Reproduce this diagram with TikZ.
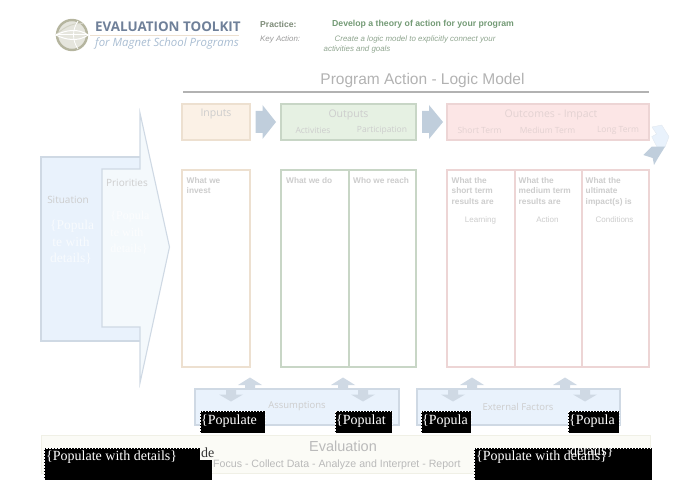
\documentclass[tikz,border=0pt]{standalone}
\usepackage{fontspec}
\setmainfont{Liberation Sans}
\newfontfamily\lsf{Open Sans}
\newfontfamily\srf{Liberation Serif}
\definecolor{txtg}{HTML}{CDCDCD}
\definecolor{blueF}{HTML}{E9F2FC}
\definecolor{blueD}{HTML}{CFD9E4}
\definecolor{arrowB}{HTML}{C0CEDC}
\definecolor{iceF}{HTML}{F4F9FC}
\definecolor{orF}{HTML}{FBF1E6}
\definecolor{orD}{HTML}{EDE0D0}
\definecolor{grF}{HTML}{E6F1E3}
\definecolor{grD}{HTML}{C8D6C6}
\definecolor{piF}{HTML}{FCE6E6}
\definecolor{piD}{HTML}{EDD5D5}
\definecolor{evF}{HTML}{FBFBF6}
\definecolor{evD}{HTML}{F0F0E6}
\definecolor{logoK}{HTML}{B5B59F}
\definecolor{tkC}{HTML}{6F8099}
\definecolor{fmC}{HTML}{A9BDD2}
\definecolor{prC}{HTML}{7D8B78}
\definecolor{devC}{HTML}{739A75}
\definecolor{kaC}{HTML}{9A9A9A}
\definecolor{caC}{HTML}{8FA58F}
\definecolor{ocC}{HTML}{E3D2D2}
\begin{document}
\begin{tikzpicture}[x=1pt,y=-1pt,
  colbox/.style={draw=#1,line width=1.3pt,fill=white},
  lbl/.style={font=\lsf\fontsize{#1}{#1}\selectfont,text=txtg,inner sep=0pt},
  small/.style={font=\fontsize{8.3}{10.6}\selectfont\bfseries,text=txtg,align=left,anchor=north west,inner sep=0pt},
  thin lbl/.style={font=\fontsize{8}{8}\selectfont,text=txtg,inner sep=0pt},
  bfill/.style={fill=arrowB,draw=none},
  updown/.style={fill=blueD,draw=none},
  blktxt/.style={text=white,font=\srf\fontsize{14}{14}\selectfont,anchor=west,inner sep=0pt},
  blkedge/.style={white,dash pattern=on 1.5pt off 1.5pt,line width=.5pt}]
\useasboundingbox (0,0) rectangle (700,494);
% logo
\node[circle,draw=logoK,line width=2.4pt,minimum size=30pt,inner sep=0pt,fill=logoK!35] (logo) at (72,35) {};
\draw[logoK!60!white,line width=1pt] (logo.west) .. controls (66,25) and (75,23) .. (logo.north east);
\draw[white,line width=1pt] (logo.west) .. controls (66,30) and (78,28) .. (logo.east);
\draw[white,line width=1pt] (logo.west) .. controls (66,40) and (78,42) .. (logo.east);
\draw[white,line width=1pt] (logo.west) -- (logo.east);
\draw[white,line width=.8pt] (78,21) .. controls (72,30) and (72,40) .. (78,49);
\node[font=\lsf\fontsize{13.4}{13.4}\selectfont\bfseries,text=tkC,anchor=west,inner sep=0pt] (tk) at (95,26.5) {EVALUATION TOOLKIT};
\coordinate (tkl) at (90,35); \coordinate (tkr) at (239,35);
\draw[orD,line width=.8pt] (tkl) -- (tkr);
\node[font=\lsf\itshape\fontsize{11.4}{11.4}\selectfont,text=fmC,anchor=west,inner sep=0pt] (fm) at (95,43.5) {for Magnet School Programs};
% practice header
\node[font=\fontsize{8.6}{8.6}\selectfont\bfseries,text=prC,anchor=west,inner sep=0pt] (pr) at (260,24) {Practice:};
\node[font=\fontsize{8.7}{8.7}\selectfont\bfseries,text=devC,anchor=west,inner sep=0pt] (dev) at (332,24) {Develop a theory of action for your program};
\node[font=\itshape\fontsize{7.9}{7.9}\selectfont,text=kaC,anchor=west,inner sep=0pt] (ka) at (260,39.5) {Key Action:};
\node[font=\itshape\fontsize{7.9}{7.9}\selectfont,text=caC,anchor=west,inner sep=0pt] (ca) at (334.5,39.5) {Create a logic model to explicitly connect your};
\node[font=\itshape\fontsize{7.9}{7.9}\selectfont,text=caC,anchor=west,inner sep=0pt] (ag) at (323.5,49) {activities and goals};
% title
\node[font=\fontsize{15.5}{15.5}\selectfont,text=black!30,inner sep=0pt] (title) at (422.5,80) {Program Action - Logic Model};
\coordinate (rl) at (183,92); \coordinate (rr) at (649,92);
\draw[black!30,line width=1.7pt] (rl) -- (rr);
% head boxes
\fill[orF] (182,104) rectangle (250,140); \draw[orD,line width=1.3pt] (182,104) rectangle (250,140);
\fill[grF] (281,104) rectangle (416,140); \draw[grD,line width=1.3pt] (281,104) rectangle (416,140);
\fill[piF] (447,104) rectangle (649,140); \draw[piD,line width=1.3pt] (447,104) rectangle (649,140);
\node[lbl=10.5] (inp) at (216,114.5) {Inputs};
\node[lbl=10.5] (oup) at (348.5,114.5) {Outputs};
\node[lbl=8.5] (act) at (313,130.5) {Activities};
\node[lbl=8.5] (par) at (382,130.5) {Participation};
\node[lbl=10.5,text=ocC] (oc) at (551,114.5) {Outcomes - Impact};
\node[lbl=8.5,text=ocC] (st) at (479.5,130.5) {Short Term};
\node[lbl=8.5,text=ocC] (mt) at (547.5,130.5) {Medium Term};
\node[lbl=8.5,text=ocC] (lt) at (618,130.5) {Long Term};
% block arrows
\fill[bfill] (255.5,111) -- (262.5,111) -- (262.5,105) -- (276,122) -- (262.5,139) -- (262.5,133) -- (255.5,133) -- cycle;
\fill[bfill] (422,111) -- (429,111) -- (429,105) -- (443,122) -- (429,139) -- (429,133) -- (422,133) -- cycle;
% loop arrows
\fill[blueF,draw=blueD!60,line width=.4pt] (651.7,136.7) -- (656.5,134) -- (652,127) -- (661.7,125) -- (669,136.7) -- (665,147) -- (657,147) -- cycle;
\fill[arrowB] (643.3,155) -- (651.7,146.7) -- (665,146.7) -- (658,158) -- (654,165) -- (652.7,158) -- cycle;
% columns
\draw[colbox=orD] (182,170) rectangle (250,367);
\draw[colbox=grD] (281,170) rectangle (416,367);
\draw[grD,line width=1.3pt] (349,170) -- (349,367);
\draw[colbox=piD] (447,170) rectangle (649,367);
\draw[piD,line width=1.3pt] (515,170) -- (515,367);
\draw[piD,line width=1.3pt] (582,170) -- (582,367);
\node[small] (c1) at (186.5,177) {What we\\invest};
\node[small] (c2) at (286,177) {What we do};
\node[small] (c3) at (353,177) {Who we reach};
\node[small] (c4) at (451.5,177) {What the\\short term\\results are};
\node[small] (c5) at (518.5,177) {What the\\medium term\\results are};
\node[small] (c6) at (585.5,177) {What the\\ultimate\\impact(s) is};
\node[thin lbl] (l1) at (480.5,220) {Learning};
\node[thin lbl] (l2) at (547.5,220) {Action};
\node[thin lbl] (l3) at (614.5,220) {Conditions};
% situation
\fill[blueF] (41,157) rectangle (141,342);
\draw[blueD,line width=1.1pt] (141,157) -- (41,157) -- (41,341) -- (141,341);
\filldraw[fill=iceF,draw=blueD,line width=1.1pt] (102,169) -- (140,169) -- (140,113) -- (169.5,247) -- (140,383) -- (140,327) -- (102,327) -- cycle;
\node[lbl=10] (sit) at (68,200) {Situation};
\node[font=\srf\fontsize{13.5}{16.5}\selectfont,text=white!70!blueF,align=center,inner sep=0pt] (sd) at (71,242.5) {\,\{Popula\\te with\\details\}};
\node[lbl=10] (pri) at (127,182.5) {Priorities};
\node[font=\srf\fontsize{12}{16.5}\selectfont,text=white!70!iceF,align=left,inner sep=0pt] (pd) at (130,233) {\{Popula\\te with\\details\}};
% assumptions
\fill[blueF] (195,389) rectangle (399,425); \draw[blueD,line width=1.2pt] (195,389) rectangle (399,425);
\fill[blueF] (417,389) rectangle (620,425); \draw[blueD,line width=1.2pt] (417,389) rectangle (620,425);
\foreach \cx in {250,343,472,565}{
  \fill[updown] (\cx-12,385) -- (\cx,377.5) -- (\cx+12,385) -- (\cx+5,385) -- (\cx+5,389) -- (\cx-5,389) -- (\cx-5,385) -- cycle;}
\foreach \cx in {231,363,453,585}{
  \fill[updown] (\cx-12,394.5) -- (\cx,401.5) -- (\cx+12,394.5) -- (\cx+5,394.5) -- (\cx+5,390) -- (\cx-5,390) -- (\cx-5,394.5) -- cycle;}
\node[lbl=9.5] (as) at (297,406.5) {Assumptions};
\node[lbl=9.5] (ef) at (518,406.5) {External Factors};
% evaluation
\fill[evF] (41,435) rectangle (650,473); \draw[evD,line width=1pt] (41,435) rectangle (650,473);
\node[font=\fontsize{14.5}{14.5}\selectfont,text=black!27,inner sep=0pt] (ev) at (343,446) {Evaluation};
\node[font=\fontsize{10.6}{10.6}\selectfont,text=black!27,anchor=west,inner sep=0pt] (foc) at (213,464.5) {Focus - Collect Data - Analyze and Interpret - Report};
% redaction boxes
\fill[black] (200,411) rectangle (265,433); \draw[blkedge] (200,411) rectangle (265,433);
\node[blktxt] (p1) at (201,421) {\{Populate};
\fill[black] (335,411) rectangle (392,433); \draw[blkedge] (335,411) rectangle (392,433);
\node[blktxt] (p2) at (336,421) {\{Populat};
\fill[black] (421,411) rectangle (471,433); \draw[blkedge] (421,411) rectangle (471,433);
\node[blktxt] (p3) at (422,421) {\{Popula};
\fill[black] (568,411) rectangle (619,433); \draw[blkedge] (568,411) rectangle (619,433);
\node[blktxt] (p4) at (569,421) {\{Popula};
\fill[black] (44,448) rectangle (212,480); \draw[blkedge] (44,448) rectangle (212,480);
\node[blktxt] (p5) at (46,457.5) {\{Populate with details\}};
\fill[evF] (200,448) rectangle (212.5,460);
\node[font=\srf\fontsize{14}{14}\selectfont,text=black!80,anchor=west,inner sep=0pt] (de) at (201,453) {de};
\fill[black] (474,448) rectangle (652,480); \draw[blkedge] (474,448) rectangle (652,480);
\node[blktxt] (p6) at (476,457.5) {\{Populate with details\}};
\node[blktxt] (p7) at (570,452) {details\}};
\end{tikzpicture}
\end{document}
